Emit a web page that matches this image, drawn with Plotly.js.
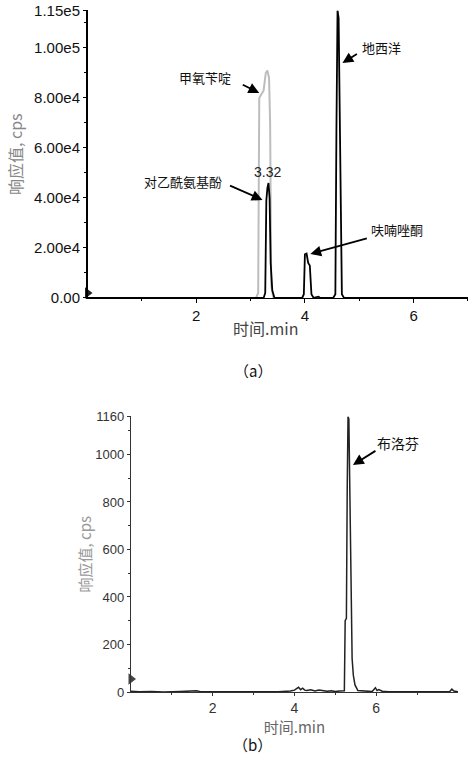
<!DOCTYPE html>
<html><head><meta charset="utf-8">
<script src="https://cdn.plot.ly/plotly-3.0.1.min.js"></script>
<style>body{margin:0;padding:0;background:#fff}#c{width:474px;height:765px}</style>
</head><body><div id="c"></div>
<script>
// (a) chromatogram, black trace: 对乙酰氨基酚, 呋喃唑酮, 地西洋
const timeA = [0, 3.24, 3.27, 3.29, 3.31, 3.33, 3.35, 3.37, 3.40, 3.44, 3.95, 3.98, 4.00, 4.03, 4.06, 4.09, 4.12, 4.16, 4.25, 4.28, 4.52, 4.56, 4.58, 4.60, 4.62, 4.64, 4.66, 4.68, 4.72, 7.0];
const respA = [0, 0, 2000, 39000, 44000, 46000, 40000, 14000, 3000, 0, 0, 1500, 17500, 17800, 14000, 13000, 1500, 0, 500, 0, 0, 1500, 68000, 115000, 112000, 70000, 28000, 1500, 0, 0];
// (a) grey trace: 甲氧苄啶
const timeG = [3.10, 3.14, 3.16, 3.24, 3.28, 3.31, 3.34, 3.36, 3.38, 3.42];
const respG = [0, 2000, 80000, 83000, 90000, 91000, 88000, 70000, 5000, 0];
// (b) chromatogram: 布洛芬
const timeB = [0, 0.2, 0.5, 0.8, 1.2, 1.5, 1.6, 1.7, 2.0, 2.5, 3.0, 3.3, 3.6, 3.9, 4.0, 4.05, 4.1, 4.15, 4.2, 4.25, 4.3, 4.4, 4.5, 4.6, 4.7, 4.8, 4.9, 5.0, 5.1, 5.22, 5.24, 5.27, 5.29, 5.31, 5.33, 5.35, 5.37, 5.39, 5.41, 5.44, 5.48, 5.55, 5.7, 5.9, 5.98, 6.02, 6.06, 6.15, 6.3, 6.6, 7.0, 7.4, 7.8, 7.85, 7.9, 8.0];
const respB = [3, 1, 2, 0, 2, 4, 5, 1, 1, 0, 2, 1, 1, 4, 8, 14, 20, 10, 16, 8, 6, 9, 4, 8, 6, 3, 5, 2, 4, 5, 300, 310, 860, 1160, 1150, 880, 620, 300, 140, 70, 30, 6, 3, 2, 18, 6, 10, 3, 1, 1, 3, 0, 2, 12, 4, 1];
// axis ticks
const yTickValsA = [0, 20000, 40000, 60000, 80000, 100000, 115000];
const yTickTextA = ['0.00', '2.00e4', '4.00e4', '6.00e4', '8.00e4', '1.00e5', '1.15e5'];
const yTickValsB = [0, 200, 400, 600, 800, 1000, 1160];
const xTickVals = [2, 4, 6];
const xMinorVals = [1, 3, 5, 7];
// start markers
const markerA = {x: [0], y: [2000]};
const markerB = {x: [0], y: [55]};

const cjk = 'Noto Sans CJK SC, sans-serif';
const traces = [
  {x: timeG, y: respG, xaxis: 'x', yaxis: 'y', mode: 'lines', line: {color: '#bdbdbd', width: 2}, hoverinfo: 'skip'},
  {x: timeA, y: respA, xaxis: 'x', yaxis: 'y', mode: 'lines', line: {color: '#000', width: 1.8}, hoverinfo: 'skip'},
  {x: markerA.x, y: markerA.y, xaxis: 'x', yaxis: 'y', mode: 'markers', cliponaxis: false, marker: {symbol: 'triangle-right', size: 10, color: '#222'}, hoverinfo: 'skip'},
  {x: timeB, y: respB, xaxis: 'x2', yaxis: 'y2', mode: 'lines', line: {color: '#222', width: 1.5}, hoverinfo: 'skip'},
  {x: markerB.x, y: markerB.y, xaxis: 'x2', yaxis: 'y2', mode: 'markers', cliponaxis: false, marker: {symbol: 'triangle-right', size: 10, color: '#444'}, hoverinfo: 'skip'}
];

function arrow(xr, yr, x, y, ax, ay) {
  return {xref: xr, yref: yr, x: x, y: y, ax: ax, ay: ay, text: '', showarrow: true,
    arrowhead: 2, arrowsize: 1.2, arrowwidth: 1.8, arrowcolor: '#000', standoff: 0};
}
function label(xr, yr, x, y, t, size, color, fam) {
  return {xref: xr, yref: yr, x: x, y: y, text: t, showarrow: false,
    font: {family: fam || cjk, size: size || 13, color: color || '#111'}};
}

const layout = {
  width: 474, height: 765, showlegend: false,
  margin: {l: 0, r: 0, t: 0, b: 0},
  paper_bgcolor: '#fff', plot_bgcolor: '#fff',
  font: {family: 'Liberation Sans, Arial, sans-serif', color: '#111'},
  xaxis: {domain: [0.1846, 0.9873], anchor: 'y', range: [0, 7], tickvals: xTickVals,
    showgrid: false, zeroline: false, showline: true, linecolor: '#000', linewidth: 1.5,
    ticks: 'outside', ticklen: 4, tickcolor: '#000', tickfont: {size: 15, color: '#111'},
    minor: {tickvals: xMinorVals, ticklen: 2, tickcolor: '#000', ticks: 'outside'}},
  yaxis: {domain: [0.6105, 0.9863], anchor: 'x', range: [0, 115000],
    tickvals: yTickValsA, ticktext: yTickTextA,
    showgrid: false, zeroline: false, showline: true, linecolor: '#000', linewidth: 1.5,
    ticks: 'outside', ticklen: 3, tickcolor: '#000', tickfont: {size: 15, color: '#111'},
    minor: {dtick: 10000, ticklen: 2, tickcolor: '#000', ticks: 'outside'},
    title: {text: '响应值, cps', standoff: 7, font: {family: cjk, size: 16, color: '#888'}}},
  xaxis2: {domain: [0.2764, 0.9662], anchor: 'y2', range: [0, 8], tickvals: xTickVals,
    showgrid: false, zeroline: false, showline: true, linecolor: '#333', linewidth: 1.2,
    ticks: 'outside', ticklen: 3, tickcolor: '#333', tickfont: {size: 14, color: '#333'},
    minor: {tickvals: xMinorVals, ticklen: 2, tickcolor: '#333', ticks: 'outside'},
    title: {text: '时间.min', standoff: 0, font: {family: cjk, size: 15, color: '#666'}}},
  yaxis2: {domain: [0.0954, 0.4556], anchor: 'x2', range: [0, 1160], tickvals: yTickValsB,
    showgrid: false, zeroline: false, showline: true, linecolor: '#333', linewidth: 1.2,
    ticks: 'outside', ticklen: 3, tickcolor: '#333', tickfont: {size: 13, color: '#333'},
    minor: {dtick: 100, ticklen: 2, tickcolor: '#333', ticks: 'outside'},
    title: {text: '响应值, cps', standoff: 0, font: {family: cjk, size: 15, color: '#999'}}},
  annotations: [
    arrow('x', 'y', 3.16, 82000, -18, -9),
    label('x', 'y', 2.17, 88000, '甲氧苄啶'),
    arrow('x', 'y', 3.22, 39200, -34, -15),
    label('x', 'y', 1.76, 46400, '对乙酰氨基酚'),
    label('x', 'y', 3.31, 50400, '3.32', 14, '#222', 'Liberation Sans, Arial, sans-serif'),
    arrow('x', 'y', 4.69, 94000, 16, -10),
    label('x', 'y', 5.41, 100000, '地西洋'),
    arrow('x', 'y', 4.10, 17600, 58, -16),
    label('x', 'y', 5.70, 27200, '呋喃唑酮'),
    label('x2', 'y2', 5.31, 1196, '5.31', 13, '#333', 'Liberation Sans, Arial, sans-serif'),
    arrow('x2', 'y2', 5.43, 956, 24, -15),
    label('x2', 'y2', 6.53, 1048, '布洛芬', 14),
    // x-axis title of (a) placed as annotation for exact position
    {xref: 'paper', yref: 'paper', x: 265 / 474, y: 1 - 328 / 765, text: '时间.min', showarrow: false,
      font: {family: cjk, size: 16, color: '#444'}},
    {xref: 'paper', yref: 'paper', x: 0.534, y: 0.5163, text: '（a）', showarrow: false,
      font: {family: cjk, size: 15, color: '#111'}},
    {xref: 'paper', yref: 'paper', x: 0.532, y: 0.0105, text: '（b）', showarrow: false,
      font: {family: cjk, size: 15, color: '#111'}}
  ]
};
Plotly.newPlot('c', traces, layout, {staticPlot: true, displayModeBar: false});
</script></body></html>
